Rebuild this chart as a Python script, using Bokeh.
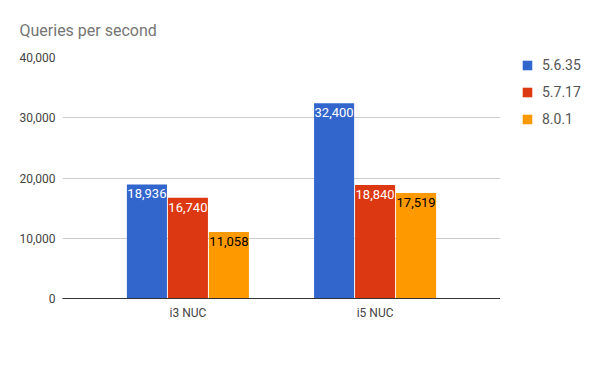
from bokeh.plotting import figure
from bokeh.layouts import row
from bokeh.models import ColumnDataSource, FactorRange, Range1d, Legend, LegendItem, LabelSet, NumeralTickFormatter, SingleIntervalTicker, Title
from bokeh.core.properties import value
from bokeh.transform import dodge
from bokeh.embed import file_html
from bokeh.resources import INLINE

categories = ["i3 NUC", "i5 NUC"]
series = ["5.6.35", "5.7.17", "8.0.1"]
v5635 = [18936, 32400]
v5717 = [16740, 18840]
v801 = [11058, 17519]
colors = ["#3366cc", "#dc3912", "#ff9900"]
label_colors = ["#ffffff", "#ffffff", "#000000"]

FONT = "Roboto"

p = figure(width=500, height=371, output_backend="svg", toolbar_location=None,
           x_range=FactorRange(factors=categories, range_padding=0.17),
           y_range=Range1d(0, 40000),
           min_border_left=62, min_border_right=0, min_border_top=57, min_border_bottom=73)

p.outline_line_color = None
p.background_fill_color = "white"
p.border_fill_color = "white"

vals = [v5635, v5717, v801]
offsets = [-0.219, 0.0, 0.219]
for name, v, c, lc, off in zip(series, vals, colors, label_colors, offsets):
    src = ColumnDataSource(dict(cat=categories, val=v, txt=[f"{x:,}" for x in v]))
    p.vbar(x=dodge("cat", off, range=p.x_range), top="val", width=0.214, source=src,
           fill_color=c, line_color=None)
    lab = LabelSet(x=dodge("cat", off, range=p.x_range), y="val", text="txt", source=src,
                   text_align="center", text_baseline="top", y_offset=-5,
                   text_color=lc, text_font_size="13px", text_font=value(FONT))
    p.add_layout(lab)

p.xgrid.grid_line_color = None
p.ygrid.grid_line_color = "#cccccc"
p.yaxis.ticker = SingleIntervalTicker(interval=10000)
p.yaxis.formatter = NumeralTickFormatter(format="0,0")
p.yaxis.axis_line_color = None
p.yaxis.major_tick_line_color = None
p.yaxis.minor_tick_line_color = None
p.yaxis.major_tick_out = 0
p.yaxis.major_label_text_font = FONT
p.yaxis.major_label_text_font_size = "12px"
p.yaxis.major_label_text_color = "#444444"
p.yaxis.major_label_standoff = 3

p.xaxis.axis_line_color = "#333333"
p.xaxis.major_tick_line_color = None
p.xaxis.minor_tick_line_color = None
p.xaxis.major_tick_out = 0
p.xaxis.major_label_text_font = FONT
p.xaxis.major_label_text_font_size = "12px"
p.xaxis.major_label_text_color = "#444444"
p.xaxis.major_label_standoff = 7

t = Title(text="Queries per second", text_font=FONT, text_font_size="16px",
          text_color="#757575", text_font_style="normal", align="left", offset=-43, standoff=35)
p.add_layout(t, "above")

# Legend panel (swatch renderers sit outside its visible range; only the legend shows)
lg = figure(width=100, height=371, output_backend="svg", toolbar_location=None,
            x_range=Range1d(0, 1), y_range=Range1d(0, 1),
            min_border_left=21, min_border_right=0, min_border_top=37, min_border_bottom=0)
lg.axis.visible = False
lg.grid.visible = False
lg.outline_line_color = None
lg.border_fill_color = "white"
items = []
for name, c in zip(series, colors):
    r = lg.vbar(x=[5], top=[5], width=0.1, fill_color=c, line_color=None)
    items.append(LegendItem(label=name, renderers=[r]))
legend = Legend(items=items, location="top_left", orientation="vertical",
                glyph_width=12, glyph_height=12, label_height=16, spacing=11,
                padding=0, margin=0, label_standoff=9,
                label_text_font=FONT, label_text_font_size="14px", label_text_color="#555555",
                background_fill_alpha=0, border_line_color=None)
lg.add_layout(legend)

layout = row(p, lg, spacing=0)
open("out.html", "w").write(file_html(layout, INLINE))
